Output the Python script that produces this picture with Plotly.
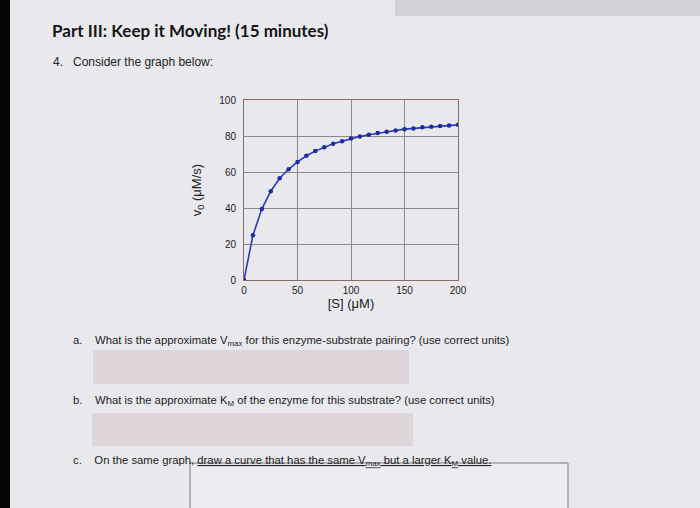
import plotly.graph_objects as go

# ---- data ----
substrate_uM = [0, 8.33, 16.67, 25, 33.33, 41.67, 50, 58.33, 66.67, 75, 83.33, 91.67,
                100, 108.33, 116.67, 125, 133.33, 141.67, 150, 158.33, 166.67, 175,
                183.33, 191.67, 200]
velocity_uM_s = [0, 24.9, 39.4, 49.3, 56.5, 61.5, 65.6, 69.0, 71.6, 73.8, 75.7, 77.1,
                 78.6, 79.7, 80.7, 81.6, 82.3, 83.1, 83.8, 84.2, 84.8, 85.1,
                 85.5, 85.9, 86.2]
x_ticks = [0, 50, 100, 150, 200]
y_ticks = [0, 20, 40, 60, 80, 100]

W, H = 700, 508
L, R, T, B = 244, 458, 100, 280  # plot area in pixels


def px(x):
    return (x - L) / (R - L)


def py(y):
    return (B - y) / (B - T)


SANS = "Liberation Sans, Arial, sans-serif"

fig = go.Figure()
fig.add_trace(go.Scatter(
    x=substrate_uM, y=velocity_uM_s, mode="lines+markers",
    line=dict(color="#2a3ab8", width=1.6),
    marker=dict(color="#1a2aa8", size=4.5),
    showlegend=False, hoverinfo="skip",
))

bg = "#e9e9ed"
fig.update_layout(
    width=W, height=H,
    margin=dict(l=L, r=W - R, t=T, b=H - B, pad=0),
    paper_bgcolor=bg, plot_bgcolor=bg,
    font=dict(family=SANS, color="#222"),
    xaxis=dict(range=[0, 200], tickvals=x_ticks, showgrid=True, gridcolor="#8a8a8a",
               gridwidth=1, zeroline=False, showline=True, linecolor="#8c6a6a",
               linewidth=1, mirror=True, ticks="", ticklabelstandoff=1,
               tickfont=dict(size=10, color="#222"),
               title=dict(text="[S] (μM)", font=dict(size=13, family=SANS, color="#222"),
                          standoff=2)),
    yaxis=dict(range=[0, 100], tickvals=y_ticks, showgrid=True, gridcolor="#8a8a8a",
               gridwidth=1, zeroline=False, showline=True, linecolor="#8c6a6a",
               linewidth=1, mirror=True, ticks="", ticklabelstandoff=5,
               tickfont=dict(size=10, color="#222"),
               title=dict(text="v<sub>0</sub> (μM/s)", font=dict(size=13, family=SANS, color="#222"),
                          standoff=14)),
)

shapes = [
    # darker band top-right
    dict(type="rect", xref="paper", yref="paper", x0=px(395), x1=px(700), y0=py(16), y1=py(0),
         fillcolor="#d2d2d6", line=dict(width=0), layer="below"),
    # answer boxes
    dict(type="rect", xref="paper", yref="paper", x0=px(93), x1=px(409), y0=py(384), y1=py(350),
         fillcolor="rgba(214,196,202,0.55)", line=dict(width=0), layer="below"),
    dict(type="rect", xref="paper", yref="paper", x0=px(92), x1=px(413), y0=py(446), y1=py(413),
         fillcolor="rgba(214,196,202,0.55)", line=dict(width=0), layer="below"),
    dict(type="rect", xref="paper", yref="paper", x0=px(190), x1=px(568), y0=py(512), y1=py(463),
         fillcolor="rgba(242,242,246,0.5)", line=dict(width=1, color="#7a7a7a"), layer="below"),
]

annotations = [
    dict(text="<b>Part III: Keep it Moving! (15 minutes)</b>", x=px(50), y=py(30),
         font=dict(family="Lato, DejaVu Sans, sans-serif", size=17, color="#151515")),
    dict(text="4.   Consider the graph below:", x=px(51), y=py(62),
         font=dict(family=SANS, size=12, color="#222")),
    dict(text="a.    What is the approximate V<sub>max</sub> for this enzyme-substrate pairing? (use correct units)",
         x=px(71), y=py(341), font=dict(family=SANS, size=11.3, color="#222")),
    dict(text="b.    What is the approximate K<sub>M</sub> of the enzyme for this substrate? (use correct units)",
         x=px(71), y=py(401), font=dict(family=SANS, size=11.3, color="#222")),
    dict(text="c.    On the same graph, <u>draw a curve that has the same V<sub>max</sub> but a larger K<sub>M</sub> value.</u>",
         x=px(71), y=py(461), font=dict(family=SANS, size=11.3, color="#222")),
]
for a in annotations:
    a.update(xref="paper", yref="paper", xanchor="left", yanchor="middle", showarrow=False)

# dark edge on the left of the photo (annotation box with a black background)
annotations.append(dict(text=" ", xref="paper", yref="paper", x=px(0), y=py(0),
                        xanchor="left", yanchor="top", showarrow=False,
                        width=10, height=508, bgcolor="#050505", borderpad=0, borderwidth=0,
                        font=dict(size=10)))

fig.update_layout(shapes=shapes, annotations=annotations)
fig.write_html("out.html", config={"displayModeBar": False},
               post_script="document.body.style.margin='0';")
